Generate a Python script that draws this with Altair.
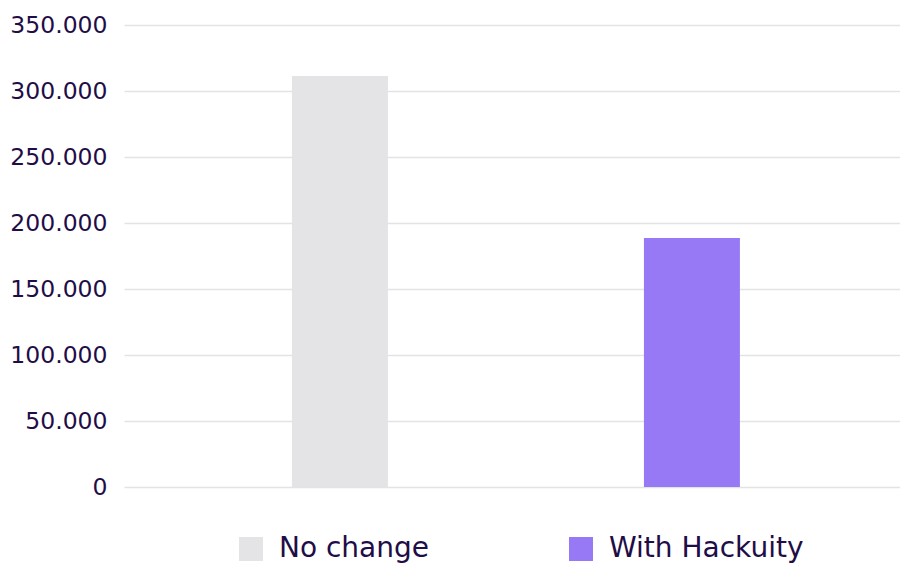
import altair as alt
import pandas as pd

#---data
scenarios = ['No change', 'With Hackuity']
costs = [311300, 188600]
bar_colors = ['#e4e4e6', '#9778f5']
y_ticks = [0, 50000, 100000, 150000, 200000, 250000, 300000, 350000]

df = pd.DataFrame({'scenario': scenarios, 'cost': costs})

ink = '#1f0d47'

chart = alt.Chart(df).mark_bar().encode(
    x = alt.X('scenario:N', sort = scenarios, title = None,
              scale = alt.Scale(paddingInner = 0.7273, paddingOuter = 0.466, align = 0.512),
              axis = None),
    y = alt.Y('cost:Q', title = None,
              scale = alt.Scale(domain = [0, 350000], nice = False),
              axis = alt.Axis(values = y_ticks, domain = False, ticks = False,
                              labelPadding = 17, labelFontSize = 23.5, labelColor = ink,
                              labelFont = 'DejaVu Sans',
                              labelExpr = "replace(format(datum.value, ','), ',', '.')",
                              gridColor = '#e3e3e3', gridWidth = 1.7)),
    color = alt.Color('scenario:N', sort = scenarios,
                      scale = alt.Scale(domain = scenarios, range = bar_colors),
                      legend = alt.Legend(title = None, orient = 'none', direction = 'horizontal',
                                          legendX = 113, legendY = 510, padding = 0,
                                          symbolType = 'square', symbolSize = 576,
                                          symbolStrokeWidth = 0, symbolOpacity = 1,
                                          labelFontSize = 28, labelFont = 'DejaVu Sans',
                                          labelColor = ink, labelOffset = 14,
                                          columnPadding = 137, labelLimit = 400))
).properties(
    width = 776,
    height = 462,
    autosize = alt.AutoSizeParams(type = 'none'),
    padding = {'left': 116, 'top': 17, 'right': 0, 'bottom': 80}
).configure_view(
    stroke = None
)

chart.save('out.html', embed_options = {'renderer': 'svg', 'actions': False})
